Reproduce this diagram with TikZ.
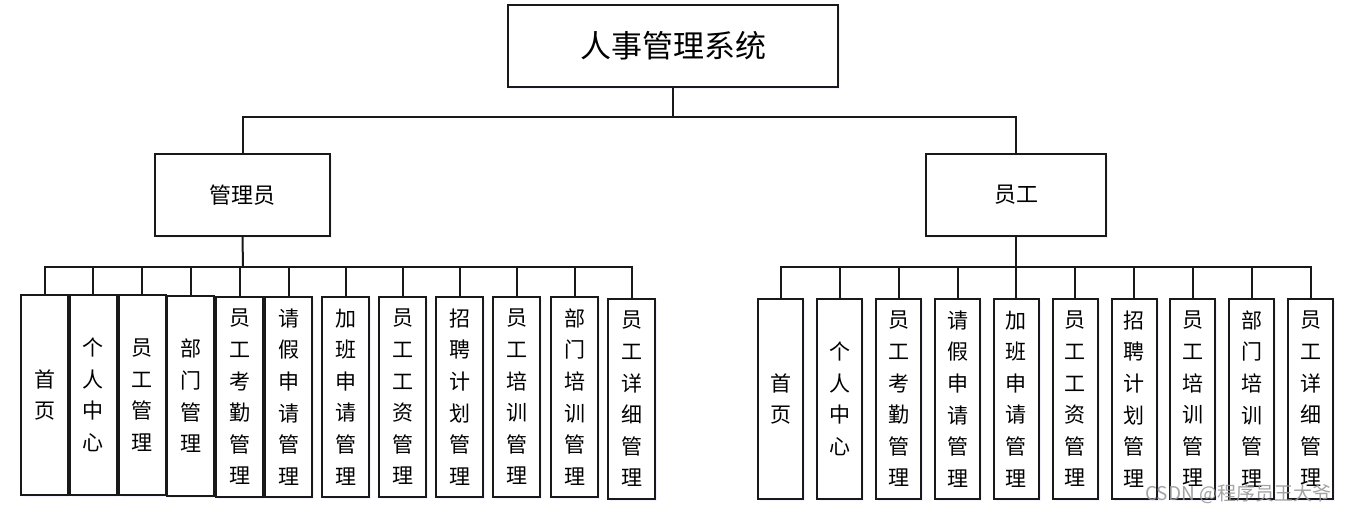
\documentclass[tikz,border=0pt]{standalone}
\usepackage{fontspec}
\usepackage{tikz}
\usetikzlibrary{positioning, shadows}
\newfontfamily\cjk{Noto Sans CJK SC}

\newcommand\leaffont{\cjk\fontsize{21}{31.6}\selectfont}
\newcommand\midfont{\cjk\fontsize{22}{26}\selectfont}
\newcommand\topfont{\cjk\fontsize{31}{36}\selectfont}

\tikzset{
  box/.style={draw=black!90, line width=2pt, fill=white, inner sep=0pt,
    drop shadow={fill=blue!6, shadow xshift=2pt, shadow yshift=-2pt, opacity=0.8}},
  leafbox/.style={box, minimum width=46pt, minimum height=200pt, align=center, font=\leaffont},
  link/.style={line width=2pt, draw=black!90}
}

\begin{document}
\begin{tikzpicture}[x=1pt, y=-1pt]
\useasboundingbox (0,0) rectangle (1351,513);

% Top levels
\node[box, minimum width=330pt, minimum height=82pt, font=\topfont] (root) at (673,46) {人事管理系统};
\node[box, minimum width=175pt, minimum height=82pt, font=\midfont] (admin) at (242.5,195) {管理员};
\node[box, minimum width=180pt, minimum height=82pt, font=\midfont] (staff) at (1016,195) {员工};

% Buses
\coordinate (rootbus) at (673,117);
\coordinate (adminbus) at (243,267);
\coordinate (staffbus) at (1016,267);

\draw[link] (root.south) -- (rootbus);
\draw[link] (rootbus) -| (admin.north);
\draw[link] (rootbus) -| (staff.north);
\draw[link] (admin.south) -- (adminbus);
\draw[link] (staff.south) -- (staffbus);

% Admin leaves
\foreach \x/\y/\txt [count=\i] in {
  44.5/395/{首\\页},
  93/395/{个\\人\\中\\心},
  142/395/{员\\工\\管\\理},
  190.5/396/{部\\门\\管\\理},
  239.5/397/{员\\工\\考\\勤\\管\\理},
  288.5/397/{请\\假\\申\\请\\管\\理},
  345.5/397/{加\\班\\申\\请\\管\\理},
  402.5/397/{员\\工\\工\\资\\管\\理},
  459.5/397/{招\\聘\\计\\划\\管\\理},
  516.5/397/{员\\工\\培\\训\\管\\理},
  574.5/397/{部\\门\\培\\训\\管\\理},
  631.5/399/{员\\工\\详\\细\\管\\理}}
{
  \node[leafbox, minimum width=47pt] (a\i) at (\x,\y) {\txt};
  \draw[link] (adminbus) -| (a\i.north);
}

% Staff leaves
\foreach \x/\txt [count=\i] in {
  780.5/{首\\页},
  839.5/{个\\人\\中\\心},
  898.5/{员\\工\\考\\勤\\管\\理},
  957.5/{请\\假\\申\\请\\管\\理},
  1016/{加\\班\\申\\请\\管\\理},
  1075/{员\\工\\工\\资\\管\\理},
  1134/{招\\聘\\计\\划\\管\\理},
  1192.5/{员\\工\\培\\训\\管\\理},
  1251.5/{部\\门\\培\\训\\管\\理},
  1310.5/{员\\工\\详\\细\\管\\理}}
{
  \node[leafbox, minimum width=45pt] (s\i) at (\x,399) {\txt};
  \draw[link] (staffbus) -| (s\i.north);
}

% Watermark
\node[anchor=base west, inner sep=0pt, text=black!40, opacity=0.9,
  font=\cjk\fontsize{19}{22}\selectfont] (mark) at (1145,500) {CSDN @程序员王大爷};

\end{tikzpicture}
\end{document}
